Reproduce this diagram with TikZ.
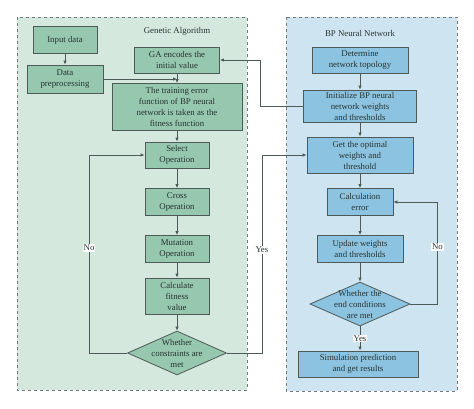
\documentclass[tikz,border=0pt]{standalone}
\usepackage{fontspec}
\setmainfont{Liberation Serif}
\usetikzlibrary{shapes.geometric,arrows.meta}

\definecolor{linec}{RGB}{78,90,88}
\definecolor{textc}{RGB}{40,52,50}
\definecolor{gapanel}{RGB}{212,232,222}
\definecolor{gafill}{RGB}{150,199,175}
\definecolor{bppanel}{RGB}{206,228,241}
\definecolor{bpfill}{RGB}{140,195,224}

\begin{document}
\begin{tikzpicture}[x=1pt,y=-1pt,
    txt/.style={text=textc, align=center, font=\fontsize{8.8}{11}\selectfont},
    gabox/.style={txt, draw=linec, fill=gafill, line width=0.8pt, inner sep=1pt},
    bpbox/.style={txt, draw=linec, fill=bpfill, line width=0.8pt, inner sep=1pt},
    gadia/.style={diamond, draw=linec, fill=gafill, line width=0.8pt, inner sep=0pt, minimum width=99, minimum height=44},
    bpdia/.style={diamond, draw=linec, fill=bpfill, line width=0.8pt, inner sep=0pt, minimum width=100, minimum height=44},
    panel/.style={draw=linec!80, dashed, line width=0.8pt},
    arr/.style={draw=linec, line width=0.8pt, -{Latex[length=4pt,width=3.5pt]}},
    tag/.style={txt, fill=white, inner sep=1pt}]
  \useasboundingbox (0,0) rectangle (474,408);

  % panels
  \draw[panel, fill=gapanel] (17,17) rectangle (247,390);
  \draw[panel, fill=bppanel] (286,17) rectangle (457,391);
  \node[txt] (gatitle) at (177,31) {Genetic Algorithm};
  \node[txt] (bptitle) at (360,33) {BP Neural Network};

  % genetic algorithm
  \node[gabox, minimum width=64, minimum height=27] (input) at (65,40) {Input data};
  \node[gabox, minimum width=76, minimum height=28] (prep) at (65,79) {Data\\preprocessing};
  \node[gabox, minimum width=85, minimum height=26] (encode) at (177,60) {GA encodes the\\initial value};
  \node[gabox, minimum width=130, minimum height=47] (fitness) at (177,107) {The training error\\function of BP neural\\network is taken as the\\fitness function};
  \node[gabox, minimum width=64, minimum height=26] (select) at (177,155) {Select\\Operation};
  \node[gabox, minimum width=64, minimum height=27] (cross) at (177,202) {Cross\\Operation};
  \node[gabox, minimum width=64, minimum height=27] (mutate) at (177,249) {Mutation\\Operation};
  \node[gabox, minimum width=64, minimum height=36] (calc) at (177,296) {Calculate\\fitness\\value};
  \node[gadia] (gacheck) at (177,353) {};
  \node[txt] (gachecktxt) at (gacheck) {Whether\\constraints are\\met};

  % bp neural network
  \node[bpbox, minimum width=96, minimum height=26] (topo) at (360,60) {Determine\\network topology};
  \node[bpbox, minimum width=113, minimum height=32] (init) at (360,106) {Initialize BP neural\\network weights\\and thresholds};
  \node[bpbox, minimum width=106, minimum height=36] (optimal) at (360,155) {Get the optimal\\weights and\\threshold};
  \node[bpbox, minimum width=66, minimum height=27] (calcerr) at (360,202) {Calculation\\error};
  \node[bpbox, minimum width=86, minimum height=27] (update) at (360,249) {Update weights\\and thresholds};
  \node[bpdia] (bpcheck) at (360,304) {};
  \node[txt] (bpchecktxt) at (bpcheck) {Whether the\\end conditions\\are met};
  \node[bpbox, minimum width=120, minimum height=26] (sim) at (358,364) {Simulation prediction\\and get results};

  % connectors
  \draw[arr] (input) -- (prep);
  \draw[arr] (prep.east) -- (prep.east -| fitness.north);
  \draw[arr] (encode) -- (fitness);
  \draw[arr] (fitness) -- (select);
  \draw[arr] (select) -- (cross);
  \draw[arr] (cross) -- (mutate);
  \draw[arr] (mutate) -- (calc);
  \draw[arr] (calc) -- (gacheck.north);
  \draw[arr] (gacheck.west) -- ++(-38,0) |- (select.west) node[tag, pos=0.265] (gano) {No};
  \draw[arr] (gacheck.east) -- ++(35,0) |- (optimal.west) node[tag, pos=0.26] (gayes) {Yes};
  \draw[arr] (init.west) -- ++(-43,0) |- (encode.east);

  \draw[arr] (topo) -- (init);
  \draw[arr] (init) -- (optimal);
  \draw[arr] (optimal) -- (calcerr);
  \draw[arr] (calcerr) -- (update);
  \draw[arr] (update) -- (bpcheck.north);
  \draw[arr] (bpcheck.east) -- ++(27,0) |- (calcerr.east) node[tag, pos=0.28] (bpno) {No};
  \draw[arr] (bpcheck.south) -- (bpcheck.south |- sim.north) node[tag, midway] (bpyes) {Yes};

\end{tikzpicture}
\end{document}
